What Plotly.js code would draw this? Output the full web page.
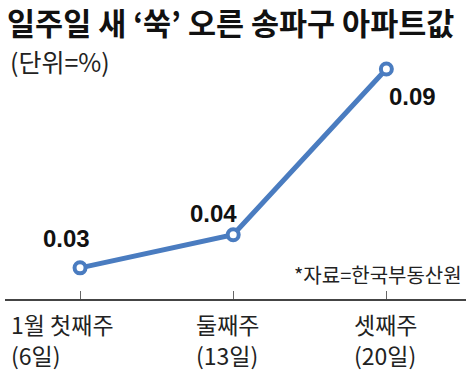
<!DOCTYPE html>
<html><head><meta charset="utf-8">
<script src="https://cdn.plot.ly/plotly-3.0.1.min.js"></script>
<style>html,body{margin:0;padding:0;background:#fff}#c{width:471px;height:381px}</style>
</head><body><div id="c"></div>
<script>
const categories = ['1월 첫째주<br>(6일)', '둘째주<br>(13일)', '셋째주<br>(20일)'];
const values = [0.03, 0.04, 0.09];
const valueLabels = ['0.03', '0.04', '0.09'];
const titleText = '일주일 새 ‘쑥’ 오른 송파구 아파트값';
const unitText = '(단위=%)';
const sourceText = '*자료=한국부동산원';

const xs = categories.map((_, i) => i);
const blue = '#4a7cc0';
const kr = '"Noto Sans CJK KR", sans-serif';
const num = '"Liberation Sans Narrow", "Arial Narrow", "Liberation Sans", sans-serif';

const labelShift = [[-14, 29], [-20, 21], [26, -28]];
const tickShift = [-70, -38, -33];

const annotations = [];
values.forEach((v, i) => {
  annotations.push({x: xs[i], y: v, xref: 'x', yref: 'y', text: '<b>' + valueLabels[i] + '</b>',
    showarrow: false, xshift: labelShift[i][0], yshift: labelShift[i][1],
    font: {family: num, size: 24, color: '#111'}});
});
categories.forEach((c, i) => {
  c.split('<br>').forEach((line, j) => {
    annotations.push({x: xs[i], y: 0, xref: 'x', yref: 'paper', text: line, showarrow: false,
      xanchor: 'left', yanchor: 'middle', align: 'left', borderpad: 0,
      xshift: tickShift[i], yshift: -25 - 31 * j,
      font: {family: kr, size: 23, color: '#222'}});
  });
});
annotations.push({x: 1, y: 0, xref: 'paper', yref: 'paper', text: sourceText, showarrow: false,
  xanchor: 'right', yanchor: 'middle', xshift: -2, yshift: 25,
  font: {family: kr, size: 20, color: '#222'}});
annotations.push({x: 0, y: 0.996, xref: 'paper', yref: 'paper', text: unitText, showarrow: false,
  xanchor: 'left', yanchor: 'middle', xshift: 3,
  font: {family: kr, size: 25, color: '#222'}});

const trace = {
  x: xs, y: values, type: 'scatter', mode: 'lines+markers',
  line: {color: blue, width: 5},
  marker: {symbol: 'circle', size: 11, color: '#fff', line: {color: blue, width: 4}},
  hoverinfo: 'none', cliponaxis: false
};

const layout = {
  width: 471, height: 381,
  margin: {l: 5, r: 5, t: 60, b: 82},
  paper_bgcolor: '#fff', plot_bgcolor: '#fff',
  title: {text: '<b>' + titleText + '</b>', x: 0.015, xanchor: 'left', y: 0.935, yanchor: 'middle',
    font: {family: kr, size: 30.5, weight: 900, color: '#111'}},
  showlegend: false,
  xaxis: {range: [-0.49, 2.52], showgrid: false, zeroline: false, showline: true,
    linecolor: '#444', linewidth: 1.5, ticks: 'inside', ticklen: 8, tickcolor: '#666',
    tickvals: xs, showticklabels: false, fixedrange: true},
  yaxis: {range: [0.0206, 0.0927], visible: false, fixedrange: true},
  annotations: annotations
};

Plotly.newPlot('c', [trace], layout, {displayModeBar: false, staticPlot: true});
</script></body></html>
